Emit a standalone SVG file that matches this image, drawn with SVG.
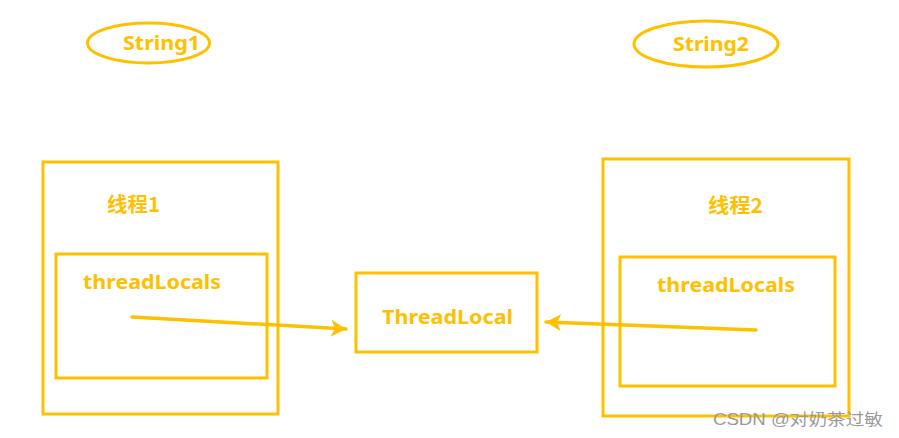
<svg xmlns="http://www.w3.org/2000/svg" width="899" height="438" viewBox="0 0 899 438">
<style>
.box{fill:none;stroke:#FFC000;stroke-width:3}
.t{fill:#FFC000;font-family:"Noto Sans","Noto Sans CJK SC",sans-serif;font-weight:bold;font-size:20px}
.c{fill:#FFC000;font-family:"Noto Sans CJK SC","Noto Sans",sans-serif;font-weight:bold;font-size:20px}
.line{stroke:#FFC000;stroke-width:3.5;fill:none;stroke-linecap:round}
.wm{fill:#9a9a9a;font-family:"Liberation Sans","Noto Sans CJK SC",sans-serif;font-size:16px}
</style>
<defs>
<marker id="ah" markerUnits="userSpaceOnUse" markerWidth="18" markerHeight="18" refX="15" refY="8.5" orient="auto">
<polygon points="0,0 15,8.5 0,17 4,8.5" fill="#FFC000"/>
</marker>
</defs>
<rect width="899" height="438" fill="#fff"/>
<g id="string1">
<ellipse class="box" cx="148.5" cy="43" rx="61" ry="20"/>
<text class="t" x="123" y="50" textLength="77" lengthAdjust="spacingAndGlyphs">String1</text>
</g>
<g id="string2">
<ellipse class="box" cx="706" cy="44" rx="72" ry="23"/>
<text class="t" x="673" y="51" textLength="76" lengthAdjust="spacingAndGlyphs">String2</text>
</g>
<g id="thread1">
<rect class="box" x="43" y="162" width="235" height="252"/>
<text class="c" x="107" y="212" textLength="53" lengthAdjust="spacingAndGlyphs">线程1</text>
</g>
<g id="threadLocals1">
<rect class="box" x="56" y="254" width="211" height="124"/>
<text class="t" x="83" y="289" textLength="138" lengthAdjust="spacingAndGlyphs">threadLocals</text>
</g>
<g id="thread2">
<rect class="box" x="603" y="159" width="246" height="257"/>
<text class="c" x="708" y="213" textLength="55" lengthAdjust="spacingAndGlyphs">线程2</text>
</g>
<g id="threadLocals2">
<rect class="box" x="620" y="257" width="215" height="129"/>
<text class="t" x="657" y="292" textLength="138" lengthAdjust="spacingAndGlyphs">threadLocals</text>
</g>
<g id="threadLocal">
<rect class="box" x="356" y="273" width="181" height="79"/>
<text class="t" x="382" y="324" textLength="131" lengthAdjust="spacingAndGlyphs">ThreadLocal</text>
</g>
<g id="connectors">
<line class="line" x1="132" y1="317" x2="346" y2="329" marker-end="url(#ah)"/>
<line class="line" x1="756" y1="330" x2="546" y2="322" marker-end="url(#ah)"/>
</g>
<text class="wm" x="713" y="425" textLength="170" lengthAdjust="spacingAndGlyphs">CSDN @对奶茶过敏</text>
</svg>
